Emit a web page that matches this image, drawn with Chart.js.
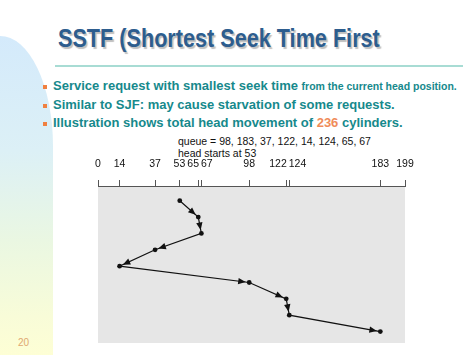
<!DOCTYPE html>
<html>
<head>
<meta charset="utf-8">
<script src="https://cdn.jsdelivr.net/npm/chart.js@4.4.0/dist/chart.umd.min.js"></script>
<style>
  html, body { margin: 0; padding: 0; }
  body { width: 474px; height: 355px; position: relative; overflow: hidden; background: #fff; font-family: "Liberation Sans", Arial, sans-serif; }
  .side { position: absolute; left: 0; top: 36px; width: 53px; height: 330px; border-top-right-radius: 53px 110px;
          background: linear-gradient(to bottom, #d4eafb 0%, #dcf0f6 35%, #eaf7e2 62%, #f8fcd8 85%, #ffffd4 100%); }
  .title { position: absolute; left: 58px; top: 23px; font-weight: bold; font-size: 26px; line-height: 30px; color: #2d5d8e;
           text-shadow: 2px 2px 1px rgba(0,0,0,0.25); white-space: nowrap; transform-origin: left top; }
  .rule { position: absolute; left: 55px; top: 65px; width: 408px; height: 2px; background: #a8dcd4; }
  ul.bullets { position: absolute; left: 0; top: 77px; margin: 0; padding: 0; list-style: none; }
  ul.bullets li { position: relative; padding-left: 53px; font-weight: bold; font-size: 13px; line-height: 18.5px; color: #16898c; white-space: nowrap; }
  ul.bullets li::before { content: ""; position: absolute; left: 43px; top: 8px; width: 4px; height: 4px; background: #f08040; }
  .small { font-size: 10.5px; }
  .hl { color: #f08c5a; }
  .note { position: absolute; left: 178px; font-size: 10.5px; line-height: 12px; color: #111; white-space: nowrap; }
  .page { position: absolute; left: 18px; top: 337px; font-size: 10px; color: #e0a870; }
  .chart-box { position: absolute; left: 0; top: 150px; width: 474px; height: 205px; }
</style>
</head>
<body>
<div class="side"></div>
<div class="title" id="title">SSTF (Shortest Seek Time First</div>
<div class="rule"></div>
<ul class="bullets">
  <li>Service request with smallest seek time <span class="small">from the current head position.</span></li>
  <li>Similar to SJF: may cause starvation of some requests.</li>
  <li>Illustration shows total head movement of <span class="hl" id="total"></span> cylinders.</li>
</ul>
<div class="note" id="queueText" style="top:135px"></div>
<div class="note" id="headText" style="top:147px"></div>
<div class="page">20</div>
<div class="chart-box"><canvas id="sstfChart"></canvas></div>

<script>
// request queue and the order SSTF serves it in
const queue = [98, 183, 37, 122, 14, 124, 65, 67];
const headStart = 53;
const serviceOrder = [53, 65, 67, 37, 14, 98, 122, 124, 183];
const tickValues = [0, 14, 37, 53, 65, 67, 98, 122, 124, 183, 199];
const cylMin = 0;
const cylMax = 199;

document.addEventListener('DOMContentLoaded', function() {
  // texts that come from the data
  let moved = 0;
  for (let i = 1; i < serviceOrder.length; i++) {
    moved += Math.abs(serviceOrder[i] - serviceOrder[i - 1]);
  }
  document.getElementById('total').textContent = moved;
  document.getElementById('queueText').textContent = 'queue = ' + queue.join(', ');
  document.getElementById('headText').textContent = 'head starts at ' + headStart;

  // squeeze the title into the narrow width of the slide font
  const title = document.getElementById('title');
  title.style.transform = 'scaleX(' + (322 / title.offsetWidth) + ')';

  const labelFont = '10.5px "Liberation Sans", Arial, sans-serif';

  const boxFill = {
    id: 'boxFill',
    beforeDraw(chart) {
      const a = chart.chartArea;
      const c = chart.ctx;
      c.save();
      c.fillStyle = '#e6e6e6';
      c.fillRect(a.left, a.top, a.right - a.left, a.bottom - a.top);
      c.restore();
    }
  };

  // arrowheads just before each served request
  const arrows = {
    id: 'arrows',
    afterDatasetsDraw(chart) {
      const pts = chart.getDatasetMeta(0).data;
      const c = chart.ctx;
      c.save();
      c.fillStyle = '#111';
      for (let i = 1; i < pts.length; i++) {
        const p0 = pts[i - 1], p1 = pts[i];
        const dx = p1.x - p0.x, dy = p1.y - p0.y;
        const len = Math.hypot(dx, dy);
        const ux = dx / len, uy = dy / len;
        const tx = p1.x - ux * 3.5, ty = p1.y - uy * 3.5;
        const bx = tx - ux * 7.5, by = ty - uy * 7.5;
        c.beginPath();
        c.moveTo(tx, ty);
        c.lineTo(bx - uy * 3.2, by + ux * 3.2);
        c.lineTo(bx + uy * 3.2, by - ux * 3.2);
        c.closePath();
        c.fill();
      }
      c.restore();
    }
  };

  // cylinder labels, pushed apart where they would collide
  const cylLabels = {
    id: 'cylLabels',
    afterDraw(chart) {
      const scale = chart.scales.x;
      const c = chart.ctx;
      c.save();
      c.font = labelFont;
      c.fillStyle = '#111';
      c.textAlign = 'center';
      c.textBaseline = 'middle';
      const xs = tickValues.map(v => scale.getPixelForValue(v));
      const ws = tickValues.map(v => c.measureText(String(v)).width);
      for (let pass = 0; pass < 10; pass++) {
        for (let i = 1; i < xs.length; i++) {
          const need = (ws[i - 1] + ws[i]) / 2 + 2;
          const gap = xs[i] - xs[i - 1];
          if (gap < need) {
            const d = (need - gap) / 2;
            xs[i - 1] -= d;
            xs[i] += d;
          }
        }
      }
      tickValues.forEach((v, i) => c.fillText(String(v), xs[i], chart.chartArea.top - 22));
      c.restore();
    }
  };

  new Chart(document.getElementById('sstfChart').getContext('2d'), {
    type: 'line',
    data: {
      datasets: [{
        data: serviceOrder.map((cyl, step) => ({ x: cyl, y: step })),
        borderColor: '#111',
        borderWidth: 1.2,
        pointRadius: 2.4,
        pointBackgroundColor: '#111',
        pointBorderWidth: 0,
        tension: 0,
        fill: false
      }]
    },
    options: {
      responsive: true,
      maintainAspectRatio: false,
      animation: false,
      layout: { padding: { left: 98, right: 69, top: 30, bottom: 12 } },
      plugins: {
        legend: { display: false },
        tooltip: { enabled: false }
      },
      scales: {
        x: {
          type: 'linear',
          position: 'top',
          min: cylMin,
          max: cylMax,
          afterBuildTicks: function(scale) {
            scale.ticks = tickValues.map(v => ({ value: v }));
          },
          ticks: { display: false },
          grid: { drawOnChartArea: false, drawTicks: true, tickLength: 6, color: '#555' },
          border: { display: true, color: '#555', width: 1 }
        },
        y: {
          type: 'linear',
          display: false,
          reverse: true,
          min: -0.9,
          max: 8.7
        }
      }
    },
    plugins: [boxFill, arrows, cylLabels]
  });
});
</script>
</body>
</html>
